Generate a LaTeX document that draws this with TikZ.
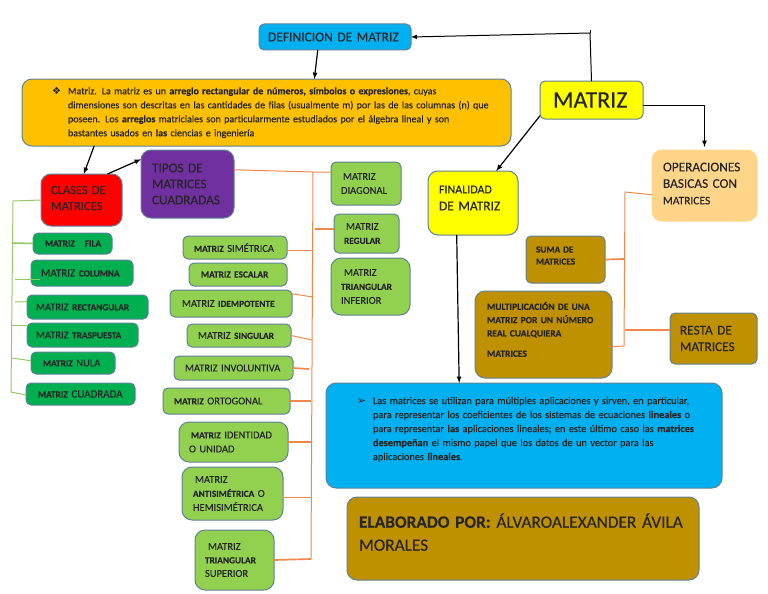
\documentclass[tikz,border=0pt]{standalone}
\usepackage{fontspec}
\setmainfont{Carlito}[FakeBold=0.25]
\newfontfamily\simbolos{DejaVu Sans}
\usepackage{xcolor}
\definecolor{azul}{RGB}{0,176,240}
\definecolor{naranja}{RGB}{255,192,0}
\definecolor{amarillo}{RGB}{255,255,0}
\definecolor{durazno}{RGB}{255,213,138}
\definecolor{rojo}{RGB}{255,0,0}
\definecolor{morado}{RGB}{112,48,160}
\definecolor{lima}{RGB}{146,208,80}
\definecolor{verde}{RGB}{0,176,80}
\definecolor{ocre}{RGB}{191,144,0}
\definecolor{borde}{RGB}{95,130,150}
\definecolor{linea-o}{RGB}{240,135,75}
\definecolor{linea-v}{RGB}{150,200,100}
\tikzstyle{n}=[rectangle,rounded corners=5pt,draw=borde,line width=1pt,outer sep=0pt,inner sep=0pt,align=left,text=black!85]
\tikzstyle{n grande}=[n,rounded corners=10pt]
\tikzstyle{e}=[line width=1.2pt,black,arrows={-latex}]
\tikzstyle{ramal}=[line width=1pt,linea-o]
\tikzstyle{ramal grueso}=[line width=1.7pt,linea-o]
\tikzstyle{rama}=[line width=1pt,linea-v]
\tikzset{caja/.style n args={3}{minimum width=#1pt,minimum height=#2pt,text width=#1pt,execute at begin node={\leftskip=#3pt\relax}}}
\newcommand{\tam}[2]{\fontsize{#1}{#2}\selectfont}
\newcommand{\peq}[1]{{\fontsize{9.3}{10}\selectfont\bfseries #1}}

\begin{document}
\begin{tikzpicture}[x=1pt,y=-1pt]
    \useasboundingbox (0,0) rectangle (768,594);

    % cabecera
    \node[n,fill=azul,caja={152}{26}{9},font=\tam{13.5}{15}] (definicion) at (335,37) {DEFINICION DE MATRIZ};
    \node[n grande,fill=naranja,caja={489}{67}{46},font=\tam{10}{14}] (arreglo) at (266.5,112.5)
      {\llap{{\simbolos\tam{10}{14}❖}\hspace{7pt}}Matriz. La matriz es un \textbf{arreglo rectangular de números, símbolos o expresiones}, cuyas\\
       dimensiones son descritas en las cantidades de filas (usualmente m) por las de las columnas (n) que\\
       poseen. Los \textbf{arreglos} matriciales son particularmente estudiados por el álgebra lineal y son\\
       bastantes usados en \textbf{las} ciencias e ingeniería};
    \node[n,fill=amarillo,caja={103}{38}{13},font=\tam{24}{26}] (matriz) at (591.5,100) {MATRIZ};
    \node[n grande,fill=amarillo,caja={90}{64}{11},font=\tam{13.5}{17}] (finalidad) at (473,203) {{\tam{12}{17}FINALIDAD}\\DE MATRIZ\\[-7pt]~};
    \node[n grande,draw=durazno,fill=durazno,caja={105}{71}{11},font=\tam{13.3}{16.5}] (operaciones) at (704.5,185.5) {OPERACIONES\\BASICAS CON\\{\tam{11.5}{15}MATRICES}\\[-12.5pt]~};

    % clases
    \node[n grande,fill=rojo,caja={81}{52}{10},font=\tam{12.5}{16}] (clases) at (81.5,200) {CLASES DE\\MATRICES\\[-12pt]~};
    \node[n,fill=verde,caja={79}{21}{12}] (fila) at (72.5,243.5) {\peq{MATRIZ\ \ \ FILA}};
    \node[n,fill=verde,caja={102}{26}{10},font=\tam{11}{13}] (columna) at (82,273) {MATRIZ \peq{COLUMNA}};
    \node[n,fill=verde,caja={121}{24}{9},font=\tam{10.5}{13}] (rectangular) at (87.5,307) {MATRIZ \peq{RECTANGULAR}};
    \node[n,fill=verde,caja={111}{24}{9},font=\tam{10.5}{13}] (traspuesta) at (82.5,335) {MATRIZ \peq{TRASPUESTA}};
    \node[n,fill=verde,caja={84}{22}{12},font=\tam{10.5}{13}] (nula) at (73,363) {\peq{MATRIZ} NULA};
    \node[n,fill=verde,caja={109}{22}{12},font=\tam{11}{13}] (cuadrada) at (80.5,394) {\peq{MATRIZ} CUADRADA};

    % tipos
    \node[n grande,fill=morado,caja={93}{68}{11},font=\tam{13.3}{16}] (tipos) at (187.5,184) {TIPOS DE\\MATRICES\\CUADRADAS};
    \node[n,fill=lima,caja={70}{43}{10},font=\tam{10.5}{14}] (diagonal) at (366,183.5) {\hspace*{2pt}MATRIZ\\DIAGONAL};
    \node[n,fill=lima,caja={65}{39}{10},font=\tam{10.5}{14}] (regular) at (366.5,233.5) {\hspace*{2pt}MATRIZ\\\peq{REGULAR}};
    \node[n grande,fill=lima,caja={79}{57}{10},font=\tam{10.5}{14}] (triinferior) at (370.5,286.5) {\hspace*{3pt}MATRIZ\\\peq{TRIANGULAR}\\INFERIOR};
    \node[n,fill=lima,caja={104}{23}{11},font=\tam{10.5}{13}] (simetrica) at (235,247.5) {\peq{MATRIZ} SIMÉTRICA};
    \node[n,fill=lima,caja={98}{23}{12}] (escalar) at (238,274.5) {\peq{MATRIZ ESCALAR}};
    \node[n,fill=lima,caja={122}{27}{12},font=\tam{10.5}{13}] (idempotente) at (231,303.5) {MATRIZ \peq{IDEMPOTENTE}};
    \node[n,fill=lima,caja={104}{23}{11},font=\tam{10.5}{13}] (singular) at (239,335.5) {MATRIZ \peq{SINGULAR}};
    \node[n,fill=lima,caja={119}{24}{11},font=\tam{10.5}{13}] (involuntiva) at (233.5,368) {MATRIZ INVOLUNTIVA};
    \node[n,fill=lima,caja={127}{26}{11},font=\tam{10.5}{13}] (ortogonal) at (226.5,401) {\peq{MATRIZ} ORTOGONAL};
    \node[n grande,fill=lima,caja={109}{40}{10},font=\tam{10.5}{14}] (identidad) at (233.5,442) {\hspace*{2pt}\peq{MATRIZ} IDENTIDAD\\O UNIDAD};
    \node[n grande,fill=lima,caja={101}{53}{11},font=\tam{10.5}{14}] (antisimetrica) at (232.5,493.5) {\hspace*{2pt}MATRIZ\\\peq{ANTISIMÉTRICA} O\\HEMISIMÉTRICA};
    \node[n grande,fill=lima,caja={79}{60}{10},font=\tam{10.5}{13.5}] (trisuperior) at (234.5,560) {\hspace*{3pt}MATRIZ\\\peq{TRIANGULAR}\\SUPERIOR};

    % operaciones
    \node[n,fill=ocre,caja={79}{47}{10},font=\tam{8.5}{12}] (suma) at (565.5,259.5) {\peq{SUMA DE}\\\peq{MATRICES}\\[-4pt]~};
    \node[n grande,fill=ocre,caja={137}{87}{12},font=\tam{9.5}{13.3}\bfseries] (multiplicacion) at (543.5,334.5) {MULTIPLICACIÓN DE UNA\\MATRIZ POR UN NÚMERO\\REAL CUALQUIERA\\[7pt]MATRICES\\[-3pt]~};
    \node[n,fill=ocre,caja={87}{51}{10},font=\tam{13.3}{16.5}] (resta) at (713.5,338.5) {RESTA DE\\MATRICES};
    \node[n grande,fill=azul,caja={396}{105}{47},font=\tam{10.3}{14}] (aplicaciones) at (524,435.5)
      {\llap{{\simbolos\tam{11}{14}➢}\hspace{7pt}}Las matrices se utilizan para múltiples aplicaciones y sirven, en particular,\\
       para representar los coeficientes de los sistemas de ecuaciones \textbf{lineales} o\\
       para representar \textbf{las} aplicaciones lineales; en este último caso las \textbf{matrices}\\
       \textbf{desempeñan} el mismo papel que los datos de un vector para las\\
       aplicaciones \textbf{lineales}.\\~};
    \node[n grande,fill=ocre,caja={352}{83}{12},font=\tam{17.3}{23}] (elaborado) at (523,538.5) {\textbf{ELABORADO POR:} ÁLVAROALEXANDER ÁVILA\\MORALES\\[-10pt]~};

    \coordinate (codo) at (590,33);
    \coordinate (tronco-a) at (313,172);
    \coordinate (tronco-b) at (311,559);
    \coordinate (t-regular) at (315,229);
    \coordinate (t-idempotente) at (313,297);
    \coordinate (t-singular) at (312,340);
    \coordinate (t-involuntiva) at (309,369);
    \coordinate (codo-o) at (625,192);
    \coordinate (codo-m) at (624,346);
    \coordinate (t-suma) at (624,259);
    \coordinate (t-resta) at (625,330);
    \coordinate (verde-a) at (13,201);
    \coordinate (verde-b) at (11,392);
    \coordinate (v-fila) at (12,243);
    \coordinate (v-columna) at (15,279);
    \coordinate (v-columna-f) at (40,279);
    \coordinate (v-rectangular) at (15,302);
    \coordinate (v-traspuesta) at (12,325);
    \coordinate (v-nula) at (12,358);

    \draw[e] (definicion.217) -- (arreglo.35);
    \draw[e,line width=1pt] (matriz.north) -- (codo) -- (definicion.east);
    \draw[e,-,line width=1pt] (codo) -- ++(0,-3);
    \draw[e] (arreglo.191) -- (clases.85);
    \draw[e] (clases.45) -- (tipos.152);
    \draw[e] (matriz.197) -- (finalidad.54);
    \draw[e] (finalidad.243) -- (aplicaciones.141);
    \draw[e,shorten >=3pt] (matriz.-6) -| (operaciones.north);

    \draw[ramal] (tipos.17) -- (tronco-a) -- (diagonal.162);
    \draw[ramal] (tronco-a) -- (tronco-b);
    \draw[ramal grueso] (t-regular) -- (regular.172);
    \draw[ramal] (simetrica.-3) -- (simetrica.-3 -| tronco-a);
    \draw[ramal] (idempotente.9) -- (t-idempotente);
    \draw[ramal] (singular.east) -- (t-singular);
    \draw[ramal grueso] (involuntiva.east) -- (t-involuntiva);
    \draw[ramal grueso] (ortogonal.east) -- (ortogonal.east -| tronco-b);
    \draw[ramal grueso] (identidad.east) -- (identidad.east -| tronco-b);
    \draw[ramal] (antisimetrica.-4) -- (antisimetrica.-4 -| tronco-b);
    \draw[ramal grueso] (trisuperior.east) -- (tronco-b);

    \draw[ramal] (operaciones.190) -- (codo-o) -- (codo-m) -- (multiplicacion.-10);
    \draw[ramal grueso] (suma.east) -- (t-suma);
    \draw[ramal grueso] (t-resta) -- (resta.169);

    \draw[rama] (clases.west) -- (verde-a) -- (verde-b) -- (cuadrada.181);
    \draw[rama,line width=1.6pt] (v-fila) -- (fila.west);
    \draw[rama] (v-columna) -- (v-columna-f);
    \draw[rama] (v-rectangular) -- (rectangular.175);
    \draw[rama] (v-traspuesta) -- (traspuesta.west |- v-traspuesta);
    \draw[rama] (v-nula) -- (nula.177);

\end{tikzpicture}
\end{document}
